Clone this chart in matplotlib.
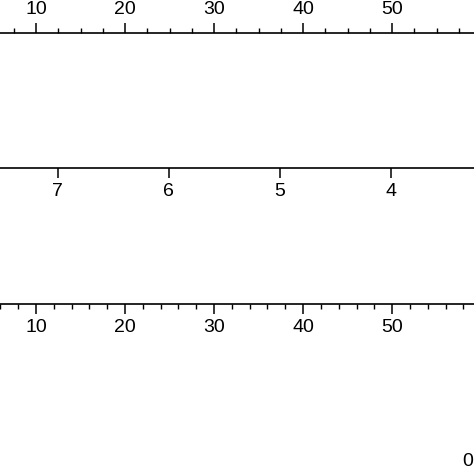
import matplotlib
matplotlib.use("Agg")
import matplotlib.pyplot as plt
import numpy as np

plt.rcParams["font.family"] = ["Liberation Sans", "DejaVu Sans"]

top_ticks = [10, 20, 30, 40, 50, 60]
top_minor = np.arange(0, 62.5, 2.5)
top_range = (5.95, 59.2)

mid_ticks = [7, 6, 5, 4]
mid_range = (7.52, 3.25)

bot_ticks = [10, 20, 30, 40, 50, 60]
bot_minor = np.arange(0, 62, 2)
bot_range = (5.95, 59.2)

W = H = 474
fig = plt.figure(figsize=(4.74, 4.74), dpi=100)


def axis_row(y_px, lim, major, minor, top):
    ax = fig.add_axes([0, 1 - y_px / H, 1, 0.001])
    ax.set_yticks([])
    for s in ax.spines.values():
        s.set_visible(False)
    if top:
        ax.spines["top"].set_visible(True)
        ax.spines["top"].set_position(("axes", 0))
        ax.xaxis.tick_top()
    else:
        ax.spines["bottom"].set_visible(True)
    ax.spines["top" if top else "bottom"].set_linewidth(1.2)
    ax.set_xticks(major)
    ax.set_xticklabels([str(v) for v in major], fontsize=14)
    if minor is not None:
        ax.set_xticks(minor, minor=True)
    ax.set_xlim(*lim)
    ax.tick_params(axis="x", which="major", length=7, width=1.1, direction="out", pad=4)
    ax.tick_params(axis="x", which="minor", length=3.5, width=1.0, direction="out")
    return ax


axis_row(33, top_range, top_ticks, top_minor, True)
axis_row(168, mid_range, mid_ticks, None, False)
axis_row(304, bot_range, bot_ticks, bot_minor, False)

fig.text(462 / W, 1 - 462 / H, "0", fontsize=14, ha="left", va="center")

fig.savefig("out.png", dpi=100)
